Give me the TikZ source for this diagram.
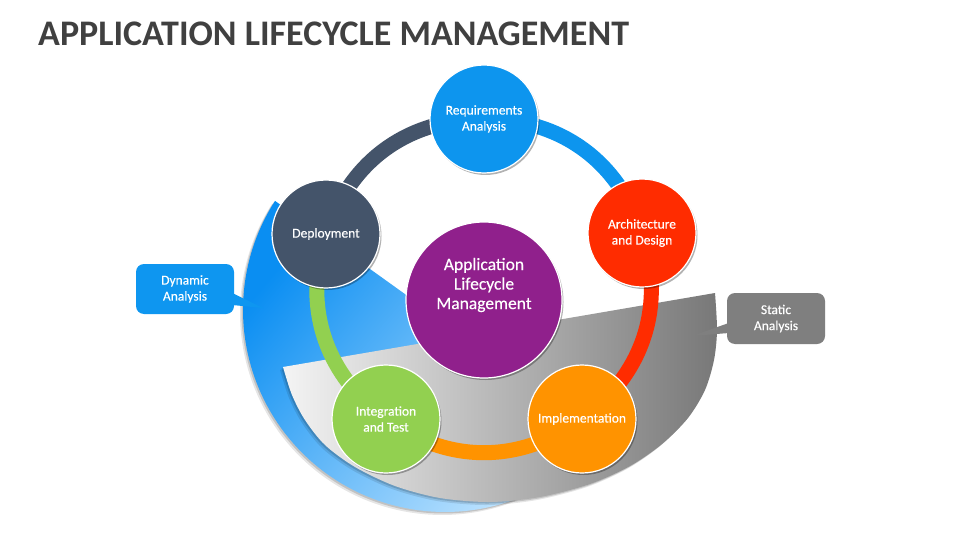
\documentclass[tikz,border=0pt]{standalone}
\usepackage{fontspec}
\setmainfont{Carlito}
\newfontfamily\lblfont[FakeBold=0.3]{Carlito}
\usetikzlibrary{calc,shadows}
\definecolor{titlec}{HTML}{404040}
\definecolor{reqc}{HTML}{0D95EE}
\definecolor{archc}{HTML}{FF2C00}
\definecolor{implc}{HTML}{FF9300}
\definecolor{integc}{HTML}{92D050}
\definecolor{deplc}{HTML}{44546A}
\definecolor{centc}{HTML}{90208C}
\definecolor{dync}{HTML}{0E96F0}
\definecolor{statc}{HTML}{7F7F7F}
\definecolor{blueA}{HTML}{0A8EF2}
\definecolor{blueB}{HTML}{C4E6FF}
\definecolor{grayA}{HTML}{F4F4F4}
\definecolor{grayB}{HTML}{C4C4C4}
\definecolor{grayC}{HTML}{787878}
\tikzset{
  stage/.style={circle, minimum size=108pt, inner sep=0pt, draw=white, line width=1.2pt,
    text=white, align=center, font=\lblfont\fontsize{13.5}{16}\selectfont,
    drop shadow={shadow xshift=1.5pt, shadow yshift=-2pt, opacity=0.3, fill=black}},
  ring/.style={line width=15pt},
  callout/.style={rounded corners=8pt, minimum width=98pt, minimum height=50pt, text=white,
    align=center, font=\lblfont\fontsize{13.5}{16}\selectfont, inner sep=0pt},
}
\begin{document}
\begin{tikzpicture}[x=1pt,y=-1pt]
\useasboundingbox (0,0) rectangle (960,540);
\fill[white] (0,0) rectangle (960,540);

% title
\node[anchor=base west, inner sep=0pt, text=titlec, font=\bfseries\fontsize{36}{40}\selectfont] (title) at (38,46) {APPLICATION LIFECYCLE MANAGEMENT};

% blue swoosh
\def\bluepath{plot[domain=212.7:38.6, samples=90] ({445+202*cos(\x)},{310+202*sin(\x)}) -- cycle}
\fill[black, opacity=0.10, shift={(-3,3)}] \bluepath;
\fill[black, opacity=0.15, shift={(-1.5,1.5)}] \bluepath;
\shade[top color=blueA, bottom color=blueB, shading angle=50] \bluepath;

% gray swoosh
\def\graypath{plot[smooth] coordinates {(283,367) (292,395) (305,420) (325,445) (355,467) (395,486) (440,498) (490,502) (540,497) (590,484) (630,466) (662,444) (688,418) (705,390) (714,360) (717,330) (715,293)} -- cycle}
\fill[black, opacity=0.10, shift={(-3,3)}] \graypath;
\fill[black, opacity=0.15, shift={(-1.5,1.5)}] \graypath;
\shade[left color=grayA, middle color=grayB, right color=grayC] \graypath;

% ring positions
\coordinate (creq) at (484,119);
\coordinate (carch) at (642,233);
\coordinate (cimpl) at (582,419);
\coordinate (cinteg) at (386,419);
\coordinate (cdepl) at (326,234);

\draw[ring, reqc] (creq) to[bend left=36] (carch);
\draw[ring, archc] (carch) to[bend left=36] (cimpl);
\draw[ring, implc] (cimpl) to[bend left=36] (cinteg);
\draw[ring, integc] (cinteg) to[bend left=36] (cdepl);
\draw[ring, deplc] (cdepl) to[bend left=36] (creq);

% stages
\node[stage, fill=reqc] (req) at (creq) {Requirements\\Analysis};
\node[stage, fill=archc] (arch) at (carch) {Architecture\\and Design};
\node[stage, fill=implc] (impl) at (cimpl) {Implementation};
\node[stage, fill=integc] (integ) at (cinteg) {Integration\\and Test};
\node[stage, fill=deplc] (depl) at (cdepl) {Deployment};
\node[stage, fill=centc, minimum size=156pt] (center) at (484,300) {};
\node[inner sep=0pt, text=white, align=center, font=\lblfont\fontsize{17.5}{19.5}\selectfont] (centertext) at (484,285) {Application\\Lifecycle\\Management};

% callouts
\node[callout, fill=dync] (dyn) at (185,289) {Dynamic\\Analysis};
\coordinate (dyntip) at (263,308);
\fill[dync] ($(dyn.east)+(-2,4)$) -- (dyntip) -- ($(dyn.east)+(-2,16)$) -- cycle;

\node[callout, fill=statc, minimum height=51pt] (stat) at (776,318.5) {Static\\Analysis};
\coordinate (stattip) at (692,336);
\fill[statc] ($(stat.west)+(2,4.5)$) -- (stattip) -- ($(stat.west)+(2,14.5)$) -- cycle;
\end{tikzpicture}
\end{document}
